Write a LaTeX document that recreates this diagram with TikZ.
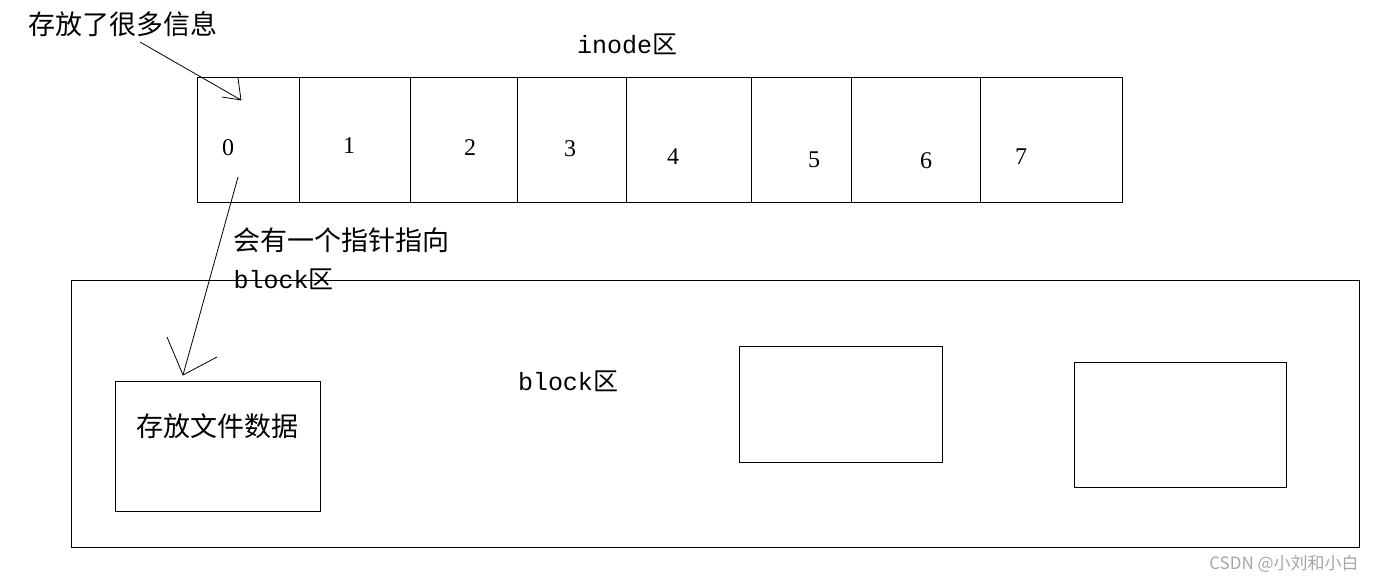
\documentclass[tikz,border=0pt]{standalone}
\usepackage{fontspec}
\setmainfont{Liberation Serif}
\newfontfamily\cjk{Noto Sans CJK SC}
\newfontfamily\mono{Liberation Mono}
\begin{document}
\begin{tikzpicture}[x=1pt,y=-1pt,line width=0.8pt,
  box/.style={draw,black},
  num/.style={font=\fontsize{24}{28}\selectfont},
  lab/.style={font=\fontsize{27}{30}\selectfont\cjk},
  ml/.style={font=\fontsize{25}{29}\selectfont\mono}]
\useasboundingbox (0,0) rectangle (1384,583);
\foreach \a/\b [count=\i from 0] in {197/299,299/410,410/517,517/626,626/751,751/851,851/980,980/1122}
  \draw[box] (\a,77) rectangle (\b,202);
\foreach \x/\y/\t in {228/148/0,349/146/1,470/148/2,570/149/3,673/157/4,814/160/5,926/161/6,1021/157/7}
  \node[num] (n\t) at (\x,\y) {\t};
\node[ml] (inode) at (627,44) {inode{\cjk 区}};
\node[lab] (info) at (123,24) {存放了很多信息};
\coordinate (a1s) at (140,42); \coordinate (a1e) at (241,100);
\draw (a1s) -- (a1e) (238,78) -- (a1e) -- (222,97);
\coordinate (a2s) at (238,177); \coordinate (a2e) at (183,375);
\draw (a2s) -- (a2e) (167,337) -- (a2e) -- (217,357);
\node[lab,anchor=west] (ptr) at (230,240) {会有一个指针指向};
\node[ml,anchor=west] (blk1) at (230,279) {block{\cjk 区}};
\draw[box] (71,280) rectangle (1359,547);
\draw[box] (115,381) rectangle (320,511);
\node[lab] (data) at (217,426) {存放文件数据};
\draw[box] (739,346) rectangle (942,462);
\draw[box] (1074,362) rectangle (1286,487);
\node[ml] (blk2) at (568,381) {block{\cjk 区}};
\node[font=\fontsize{17}{19}\selectfont\cjk,text=black!35] (wm) at (1284,564) {CSDN @小刘和小白};
\end{tikzpicture}
\end{document}
